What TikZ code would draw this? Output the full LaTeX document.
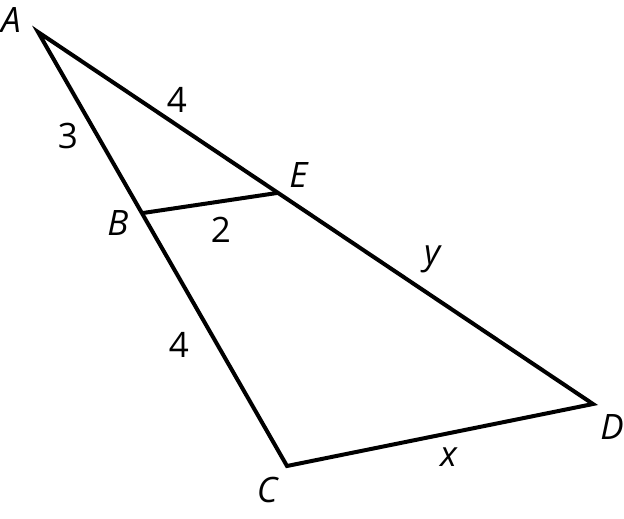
\documentclass[tikz,border=0pt]{standalone}
\usepackage{fontspec}
\setmainfont{Open Sans}
\begin{document}
\begin{tikzpicture}[x=1pt,y=-1pt,
  seg/.style={line width=4pt},
  lab/.style={inner sep=0pt,font=\fontsize{35}{40}\selectfont}]
\useasboundingbox (0,0) rectangle (624,519);
\coordinate (A) at (38,32);
\coordinate (B) at (143,213);
\coordinate (E) at (277,193);
\coordinate (C) at (287,466);
\coordinate (D) at (593,404);
\draw[seg] (D) -- (A) -- (C) -- cycle;
\draw[seg] (B) -- (E);
\node[lab] (lA) at (11,20) {\textit{A}};
\node[lab] (lB) at (118,223) {\textit{B}};
\node[lab] (lE) at (299,175) {\textit{E}};
\node[lab] (lC) at (268,490) {\textit{C}};
\node[lab] (lD) at (612,427) {\textit{D}};
\node[lab] (n4a) at (177,100) {4};
\node[lab] (n3) at (68,136) {3};
\node[lab] (n2) at (221,230) {2};
\node[lab] (n4b) at (179,345) {4};
\node[lab] (ly) at (433,259) {\textit{y}};
\node[lab] (lx) at (449,457) {\textit{x}};
\end{tikzpicture}
\end{document}
